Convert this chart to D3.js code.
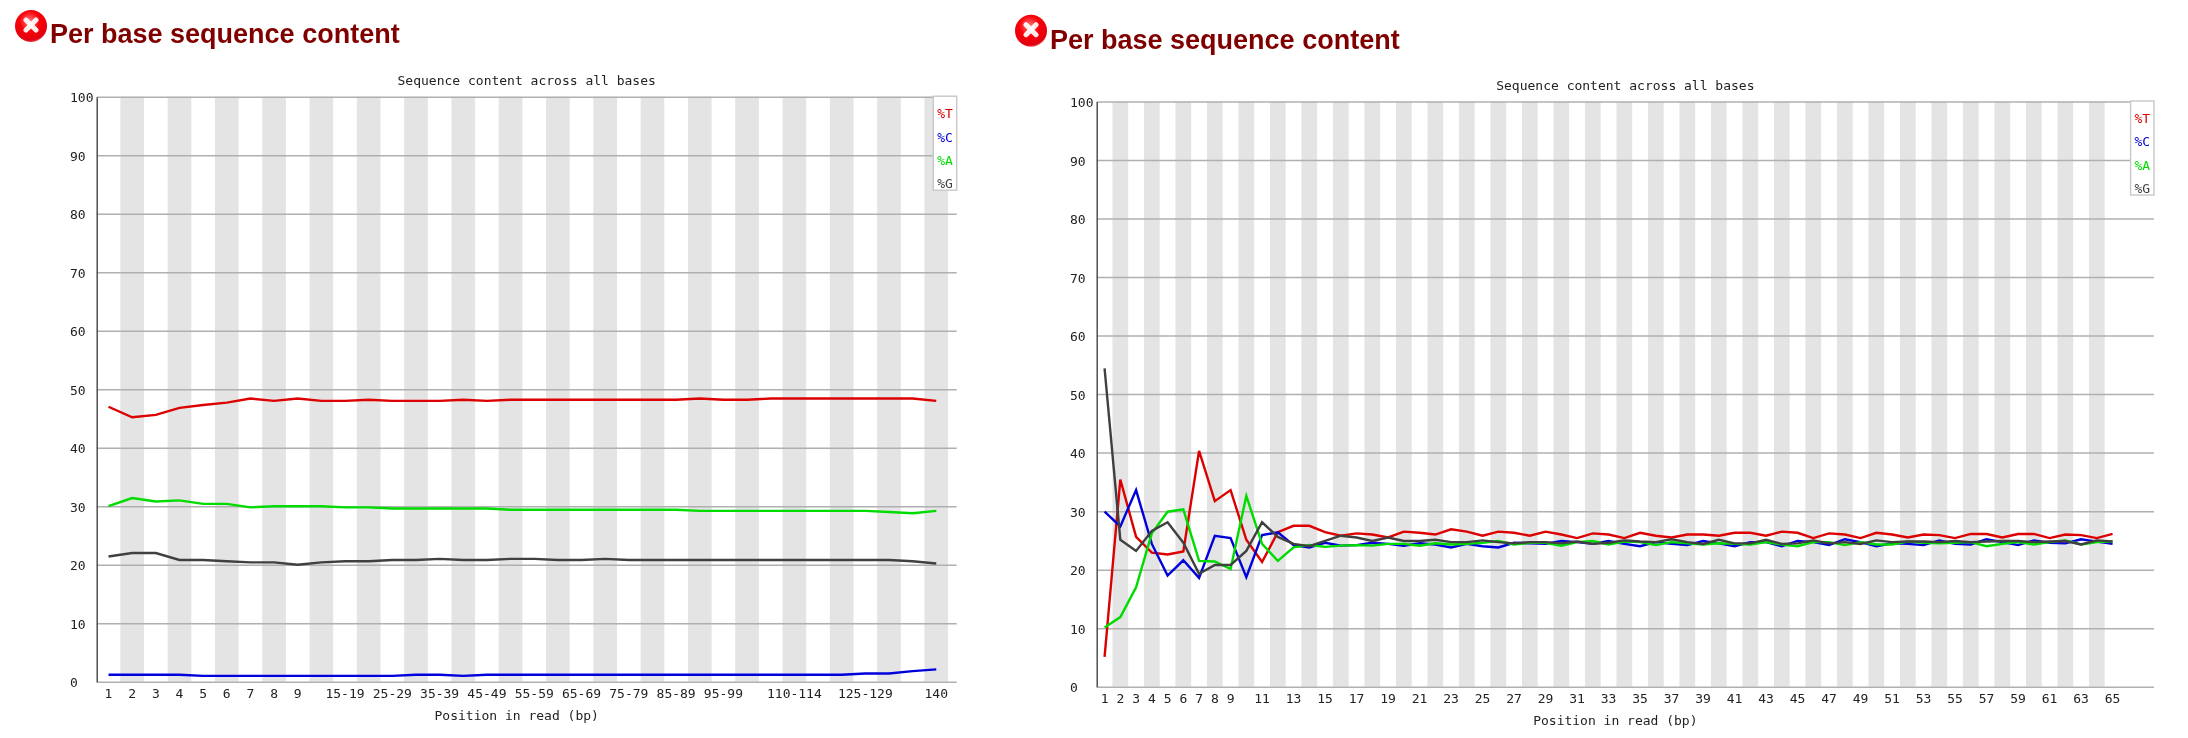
<!DOCTYPE html>
<html>
<head>
<meta charset="utf-8">
<script src="https://cdn.jsdelivr.net/npm/d3@7/dist/d3.min.js"></script>
<style>
html,body{margin:0;padding:0;background:#fff;overflow:hidden}
svg{display:block;filter:blur(0.35px)}
.mono text,text.mono{font-family:"DejaVu Sans Mono",monospace;font-size:13px;fill:#222}
.head{font-family:"Liberation Sans",Arial,sans-serif;font-weight:bold;font-size:27px;fill:#800000}
</style>
</head>
<body>
<svg id="c" width="2188" height="738"></svg>
<script>
const chartTitle = "Sequence content across all bases";
const pageTitle = "Per base sequence content";
const xAxisTitle = "Position in read (bp)";
const legendLabels = ["%T","%C","%A","%G"];
const lineColors = ["#dc0000","#0000dc","#00dc00","#404040"];
const yTicks = [0,10,20,30,40,50,60,70,80,90,100];

// Left panel
const leftCategories = ["1","2","3","4","5","6","7","8","9","10-14","15-19","20-24","25-29","30-34","35-39","40-44","45-49","50-54","55-59","60-64","65-69","70-74","75-79","80-84","85-89","90-94","95-99","100-104","105-109","110-114","115-119","120-124","125-129","130-134","135-139","140"];
const leftTickLabels = ["1","2","3","4","5","6","7","8","9","15-19","25-29","35-39","45-49","55-59","65-69","75-79","85-89","95-99","110-114","125-129","140"];
const leftT = [47,45.2,45.6,46.8,47.3,47.7,48.4,48,48.4,48,48,48.2,48,48,48,48.2,48,48.2,48.2,48.2,48.2,48.2,48.2,48.2,48.2,48.4,48.2,48.2,48.4,48.4,48.4,48.4,48.4,48.4,48.4,48];
const leftC = [1.2,1.2,1.2,1.2,1,1,1,1,1,1,1,1,1,1.2,1.2,1,1.2,1.2,1.2,1.2,1.2,1.2,1.2,1.2,1.2,1.2,1.2,1.2,1.2,1.2,1.2,1.2,1.4,1.4,1.8,2.1];
const leftA = [30,31.4,30.8,31,30.4,30.4,29.8,30,30,30,29.8,29.8,29.6,29.6,29.6,29.6,29.6,29.4,29.4,29.4,29.4,29.4,29.4,29.4,29.4,29.2,29.2,29.2,29.2,29.2,29.2,29.2,29.2,29,28.8,29.2];
const leftG = [21.4,22,22,20.8,20.8,20.6,20.4,20.4,20,20.4,20.6,20.6,20.8,20.8,21,20.8,20.8,21,21,20.8,20.8,21,20.8,20.8,20.8,20.8,20.8,20.8,20.8,20.8,20.8,20.8,20.8,20.8,20.6,20.2];

// Right panel
const rightCategories = ["1","2","3","4","5","6","7","8","9","10","11","12","13","14","15","16","17","18","19","20","21","22","23","24","25","26","27","28","29","30","31","32","33","34","35","36","37","38","39","40","41","42","43","44","45","46","47","48","49","50","51","52","53","54","55","56","57","58","59","60","61","62","63","64","65"];
const rightTickLabels = ["1","2","3","4","5","6","7","8","9","11","13","15","17","19","21","23","25","27","29","31","33","35","37","39","41","43","45","47","49","51","53","55","57","59","61","63","65"];
const rightT = [5.1,35.4,25.6,22.9,22.6,23.1,40.3,31.7,33.6,25.1,21.3,26.4,27.5,27.5,26.4,25.8,26.2,26,25.5,26.5,26.3,26,26.9,26.5,25.8,26.5,26.3,25.8,26.5,26,25.4,26.2,26,25.4,26.3,25.8,25.5,26,26,25.8,26.3,26.3,25.8,26.5,26.3,25.4,26.2,26,25.4,26.3,26,25.5,26,25.9,25.4,26.1,26.1,25.5,26.1,26.1,25.4,26,25.9,25.4,26.1];
const rightC = [29.9,27.4,33.6,24.4,19,21.6,18.6,25.8,25.4,18.7,25.9,26.4,24.2,23.8,24.6,24.1,24.2,24.6,24.4,24.1,24.5,24.3,23.8,24.4,24,23.8,24.6,24.5,24.4,24.9,24.7,24.4,24.9,24.4,24,24.7,24.4,24.2,24.9,24.5,24,24.7,24.7,24,24.9,24.7,24.2,25.2,24.7,24,24.5,24.4,24.2,25,24.4,24.3,25.2,24.7,24.2,25,24.6,24.5,25.2,24.8,24.4];
const rightA = [10.1,11.9,17,26.2,29.9,30.3,21.5,21.4,20.1,32.6,24.4,21.5,23.8,24.2,23.9,24.1,24.2,24.1,24.4,24.4,24.1,24.5,24.3,24.4,24.6,24.9,24.3,24.6,24.6,24.1,24.7,24.9,24.3,24.8,24.7,24.2,24.7,24.5,24.3,24.5,24.4,24.3,24.7,24.3,24,24.7,24.7,24.2,24.7,24.3,24.3,24.8,24.6,24.5,24.6,24.7,24,24.4,24.7,24.3,24.7,25,24.3,24.7,24.8];
const rightG = [54.4,25.1,23.2,26.6,28.1,24.6,19.3,20.8,20.8,23.2,28.1,25.6,24.4,24,24.9,25.8,25.5,24.9,25.5,24.9,24.9,25.1,24.7,24.7,25,24.7,24.5,24.7,24.7,24.5,24.8,24.4,24.6,25,24.8,24.7,25.2,24.7,24.4,25.1,24.5,24.5,25.1,24.4,24.5,25,24.5,24.7,24.4,25,24.7,24.8,24.8,24.7,24.9,24.7,24.8,24.9,24.9,24.7,24.8,24.9,24.3,25,24.8];

const svg = d3.select("#c");
const defs = svg.append("defs");
const grad = defs.append("radialGradient").attr("id","ball").attr("cx","45%").attr("cy","35%").attr("r","70%");
grad.append("stop").attr("offset","0%").attr("stop-color","#ff7a7a");
grad.append("stop").attr("offset","45%").attr("stop-color","#fa0008");
grad.append("stop").attr("offset","85%").attr("stop-color","#e00010");
grad.append("stop").attr("offset","100%").attr("stop-color","#f08a8a");

function drawHeader(iconX, iconY, textX, baseY){
  const g = svg.append("g");
  g.append("circle").attr("cx",iconX).attr("cy",iconY).attr("r",16).attr("fill","url(#ball)");
  const s = 5;
  [[-s,-s,s,s],[-s,s,s,-s]].forEach(d=>{
    g.append("line").attr("x1",iconX+d[0]).attr("y1",iconY+d[1]-1).attr("x2",iconX+d[2]).attr("y2",iconY+d[3]-1)
     .attr("stroke","#fff").attr("stroke-width",5).attr("stroke-linecap","round").attr("opacity",0.92);
  });
  g.append("text").attr("class","head").attr("x",textX).attr("y",baseY).text(pageTitle);
}

function drawPanel(p){
  const root = svg.append("g");
  const n = p.categories.length;
  const x = d3.scaleBand().domain(p.categories).range([p.left, p.left + n*p.step]).paddingInner(0).paddingOuter(0);
  const y = d3.scaleLinear().domain([0,100]).range([p.bottom,p.top]);

  // alternating bands
  root.append("g").selectAll("rect")
    .data(p.categories.filter((d,i)=>i%2===1))
    .join("rect")
    .attr("x",d=>x(d)).attr("y",y(100)).attr("width",x.bandwidth()).attr("height",y(0)-y(100))
    .attr("fill","#e4e4e4");

  // horizontal grid through a D3 axis
  const grid = root.append("g").attr("transform",`translate(${p.left},0)`)
    .call(d3.axisRight(y).tickValues(yTicks).tickSize(p.right-p.left).tickFormat(""));
  grid.select(".domain").remove();
  grid.selectAll("line").attr("stroke","#b0b0b0").attr("stroke-width",1.5);

  // y axis line + labels
  const yAxis = root.append("g").attr("class","mono").attr("transform",`translate(${p.left},0)`)
    .call(d3.axisLeft(y).tickValues(yTicks).tickSize(0).tickPadding(0));
  yAxis.select(".domain").attr("stroke","#505050").attr("stroke-width",1.5);
  yAxis.selectAll("text").attr("text-anchor","start").attr("x",-26.7).attr("dy","0.4em");

  // x axis
  const xAxis = root.append("g").attr("class","mono").attr("transform",`translate(0,${p.bottom})`)
    .call(d3.axisBottom(x).tickValues(p.tickLabels).tickSize(0).tickPadding(0));
  xAxis.select(".domain").remove();
  xAxis.selectAll("text").attr("y",11.6).attr("dy","0.38em");

  // series lines
  const line = d3.line().x((d,i)=>x(p.categories[i])+x.bandwidth()/2).y(d=>y(d));
  p.series.forEach((s,k)=>{
    root.append("path").attr("d",line(s)).attr("fill","none")
      .attr("stroke",lineColors[k]).attr("stroke-width",2.4).attr("stroke-linejoin","miter");
  });

  // titles
  root.append("text").attr("class","mono").attr("x",(p.left+p.right)/2).attr("y",p.top-12)
    .attr("text-anchor","middle").text(chartTitle);
  root.append("text").attr("class","mono").attr("x",(p.left+p.right)/2-10).attr("y",p.bottom+38.3)
    .attr("text-anchor","middle").text(xAxisTitle);

  // legend
  const lw = 23.4, lh = 94;
  const lg = root.append("g").attr("transform",`translate(${p.right-lw},${p.top-0.5})`);
  lg.append("rect").attr("width",lw).attr("height",lh).attr("fill","#fff").attr("stroke","#c8c8c8").attr("stroke-width",1.4);
  const ly = d3.scalePoint().domain(legendLabels).range([17.8,87.3]);
  lg.selectAll("text").data(legendLabels).join("text").attr("class","mono")
    .attr("x",lw/2).attr("y",d=>ly(d)+4.5).attr("text-anchor","middle")
    .style("fill",(d,i)=>lineColors[i]).text(d=>d);
}

drawHeader(31,26,50,43);
drawHeader(1031,30.7,1050,49);
drawPanel({categories:leftCategories,tickLabels:leftTickLabels,series:[leftT,leftC,leftA,leftG],left:96.7,right:956.7,top:96.7,bottom:681.7,step:23.65});
drawPanel({categories:rightCategories,tickLabels:rightTickLabels,series:[rightT,rightC,rightA,rightG],left:1096.7,right:2154,top:101.5,bottom:686.7,step:15.75});
</script>
</body>
</html>
